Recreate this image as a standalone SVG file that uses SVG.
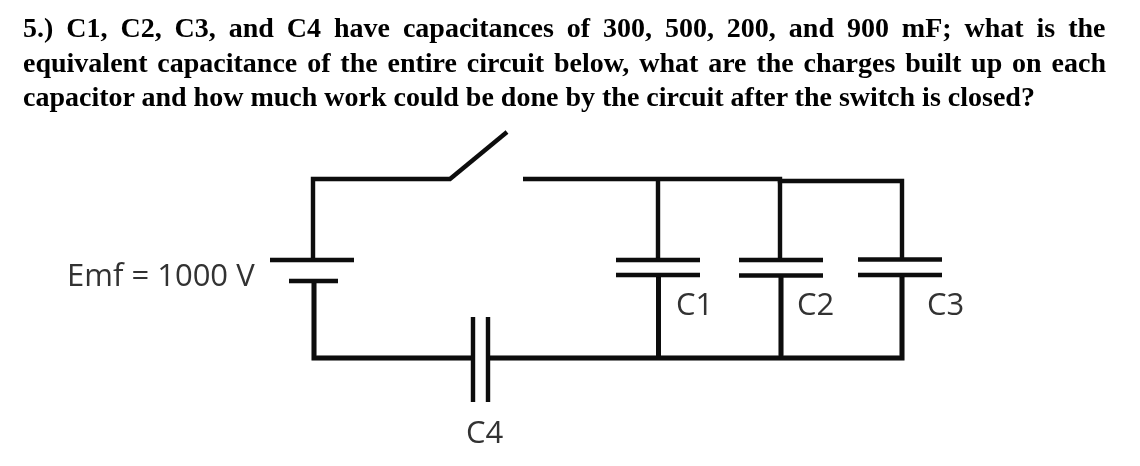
<svg xmlns="http://www.w3.org/2000/svg" width="1140" height="466" viewBox="0 0 1140 466">
<style>
.q{font-family:"Liberation Serif",serif;font-weight:bold;font-size:28px;fill:#000}
.l{font-family:"Open Sans","Liberation Sans",sans-serif;font-size:31px;fill:#333}
.w{fill:none;stroke:#0d0d0d;stroke-width:4.4}
.p{stroke-width:5}
</style>
<defs><filter id="soft" x="-5%" y="-5%" width="110%" height="110%"><feGaussianBlur stdDeviation="0.45"/></filter></defs>
<rect width="1140" height="466" fill="#fff"/>
<g id="question" filter="url(#soft)">
<text class="q" x="23" y="37" word-spacing="5.94">5.) C1, C2, C3, and C4 have capacitances of 300, 500, 200, and 900 mF; what is the</text>
<text class="q" x="23" y="72" word-spacing="2.86">equivalent capacitance of the entire circuit below, what are the charges built up on each</text>
<text class="q" x="23" y="106">capacitor and how much work could be done by the circuit after the switch is closed?</text>
</g>
<g id="connectors" filter="url(#soft)">
<path class="w" d="M313 260V179H450L507 132"/>
<path class="w" d="M523 179H780V181H902V260"/>
<path class="w" d="M658 179V260M780 179V260"/>
<path class="w p" d="M314 281V358H473M488 358H902V275M658.500 358V275M781 358V275"/>
</g>
<g id="battery" filter="url(#soft)"><path class="w" d="M270 260H354M289 281H338"/><text class="l" x="67" y="286">Emf = 1000 V</text></g>
<g id="C1" filter="url(#soft)"><path class="w" d="M616 260H700M616 275H700"/><text class="l" x="676" y="315">C1</text></g>
<g id="C2" filter="url(#soft)"><path class="w" d="M739 260H823M739 275.500H823"/><text class="l" x="797" y="315">C2</text></g>
<g id="C3" filter="url(#soft)"><path class="w" d="M858 259.500H942M858 275H942"/><text class="l" x="927" y="315">C3</text></g>
<g id="C4" filter="url(#soft)"><path class="w" d="M473 317V402M488 317V402"/><text class="l" x="466" y="443">C4</text></g>
</svg>
